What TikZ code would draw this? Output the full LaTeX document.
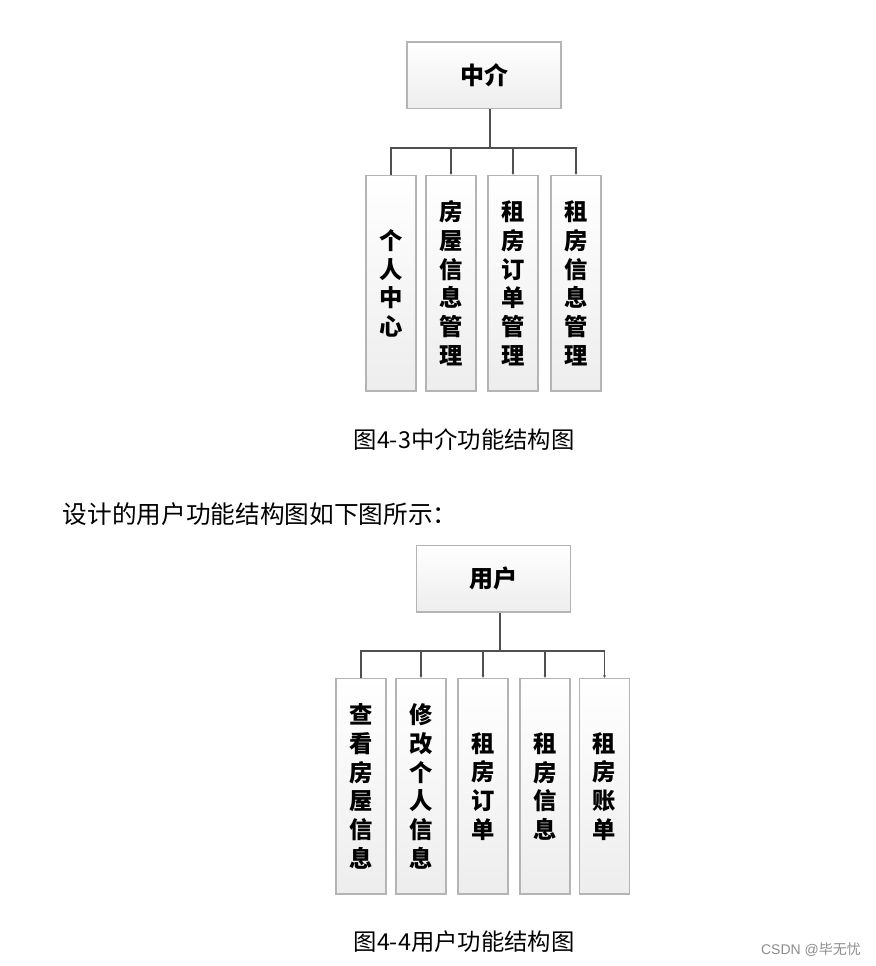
\documentclass[tikz,border=0pt]{standalone}
\usepackage{fontspec}
\setmainfont{Noto Sans CJK SC}
\newfontfamily\wmfont{Liberation Sans}
\usepackage{xcolor}
\usetikzlibrary{arrows.meta,positioning}

\definecolor{boxline}{HTML}{B4B4B4}
\definecolor{linkline}{HTML}{505050}

\begin{document}
\begin{tikzpicture}[
            x=0.75pt, y=-0.75pt,
            rootbox/.style={rectangle, draw=boxline, line width=1pt, top color=white, bottom color=black!7,
                            minimum width=115.5pt, minimum height=50pt, font=\bfseries\fontsize{18}{18}\selectfont},
            leafbox/.style={rectangle, draw=boxline, line width=1pt, top color=white, bottom color=black!7,
                            minimum width=37.5pt, minimum height=161.5pt, anchor=north, align=center,
                            font=\bfseries\fontsize{17.5}{21.5}\selectfont, inner sep=0pt},
            link/.style={draw=linkline, line width=0.8pt},
            tiplink/.style={link, -{Latex[length=2pt,width=2.4pt]}},
            caption/.style={font=\fontsize{17.5}{17.5}\selectfont}
        ]
        \useasboundingbox (0,0) rectangle (875,966);

        % intermediary
        \node[rootbox] (zj) at (484,75.5) {中介};
        \coordinate (zjbar) at (490,148);
        \node[leafbox] (zj1) at (391,175) {个\\人\\中\\心};
        \node[leafbox] (zj2) at (451,175) {房\\屋\\信\\息\\管\\理};
        \node[leafbox] (zj3) at (513,175) {租\\房\\订\\单\\管\\理};
        \node[leafbox] (zj4) at (576,175) {租\\房\\信\\息\\管\\理};

        \draw[link] (zj.south -| zjbar) -- (zjbar);
        \draw[link] (zjbar) -| (zj1.north);
        \foreach \k in {2,3,4}
            \draw[tiplink] (zjbar) -| (zj\k.north);

        \node[caption] (cap1) at (464,440) {图4-3中介功能结构图};
        \node[caption, anchor=west, font=\fontsize{18.5}{18.5}\selectfont] (intro) at (58,514) {设计的用户功能结构图如下图所示：};

        % user
        \node[rootbox] (yh) at (493.5,578.5) {用户};
        \coordinate (yhbar) at (500,651);
        \node[leafbox] (yh1) at (361,678) {查\\看\\房\\屋\\信\\息};
        \node[leafbox] (yh2) at (421,678) {修\\改\\个\\人\\信\\息};
        \node[leafbox] (yh3) at (483,678) {租\\房\\订\\单};
        \node[leafbox] (yh4) at (545,678) {租\\房\\信\\息};
        \node[leafbox] (yh5) at (604.5,678) {租\\房\\账\\单};

        \draw[link] (yh.south -| yhbar) -- (yhbar);
        \draw[link] (yhbar) -| (yh1.north);
        \foreach \k in {2,...,5}
            \draw[tiplink] (yhbar) -| (yh\k.north);

        \node[caption] (cap2) at (464,942) {图4-4用户功能结构图};
        \node[text=black!45, font=\fontsize{10.5}{10.5}\selectfont] (mark) at (811,950) {{\wmfont CSDN @}毕无忧};

    \end{tikzpicture}
\end{document}
